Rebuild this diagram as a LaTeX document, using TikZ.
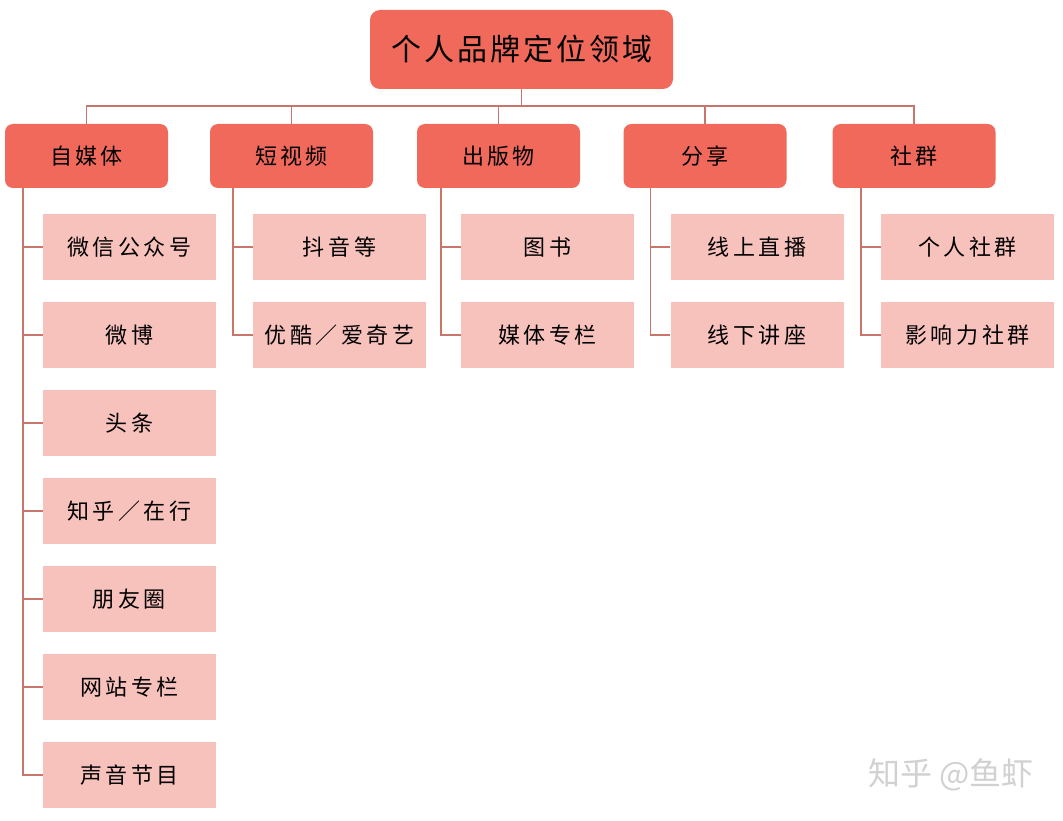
\documentclass[tikz,border=0pt]{standalone}
\usepackage{fontspec}
\setmainfont{Noto Sans CJK SC}
\definecolor{topred}{HTML}{F0695B}
\definecolor{subpink}{HTML}{F7C1BC}
\definecolor{linebrown}{HTML}{C8766C}

\begin{document}
\begin{tikzpicture}[x=1pt, y=-1pt,
		rootbox/.style={fill=topred, rounded corners=10pt, minimum width=303pt, minimum height=79pt, font=\fontsize{30}{36}\selectfont\addfontfeature{LetterSpace=10}},
		areabox/.style={fill=topred, rounded corners=8pt, minimum width=163pt, minimum height=64pt, font=\fontsize{22}{26}\selectfont\addfontfeature{LetterSpace=12}},
		itembox/.style={fill=subpink, minimum width=173pt, minimum height=66pt, font=\fontsize{22}{26}\selectfont\addfontfeature{LetterSpace=16}},
		conn/.style={draw=linebrown, line width=1.6pt}]
			\useasboundingbox (0, 0) rectangle (1063, 821);

			\node[rootbox] (root) at (521.5, 49.5) {个人品牌定位领域};

			\node[areabox] (media) at (86.5, 156) {自媒体};
			\node[areabox] (video) at (291.5, 156) {短视频};
			\node[areabox] (publish) at (498.5, 156) {出版物};
			\node[areabox] (share) at (705, 156) {分享};
			\node[areabox] (group) at (914, 156) {社群};

			\foreach \area in {media, video, publish, share, group}
			\draw[conn] (root.south) -- ++(0, 17) -| (\area.north);

			\foreach \name [count=\k from 0] in {微信公众号, 微博, 头条, 知乎／在行, 朋友圈, 网站专栏, 声音节目}
			\node[itembox] (media\k) at (129.5, 247 + 88 * \k) {\name};
			\node[itembox] (video0) at (339.5, 247) {抖音等};
			\node[itembox] (video1) at (339.5, 335) {优酷／爱奇艺};
			\node[itembox] (publish0) at (547.5, 247) {图书};
			\node[itembox] (publish1) at (547.5, 335) {媒体专栏};
			\node[itembox] (share0) at (757, 247) {线上直播};
			\node[itembox] (share1) at (757, 335) {线下讲座};
			\node[itembox] (group0) at (967.5, 247) {个人社群};
			\node[itembox] (group1) at (967.5, 335) {影响力社群};

			\foreach \k in {0, ..., 6}
			\draw[conn] ([xshift=-20pt] media.south -| media\k.west) |- (media\k.west);
			\foreach \area in {video, publish, share, group}
			\foreach \k in {0, 1}
			\draw[conn] ([xshift=-20pt] \area.south -| \area\k.west) |- (\area\k.west);

			\node[text=black!18, font=\fontsize{32}{36}\selectfont] (mark) at (951, 775) {知乎 @鱼虾};

		\end{tikzpicture}
\end{document}
